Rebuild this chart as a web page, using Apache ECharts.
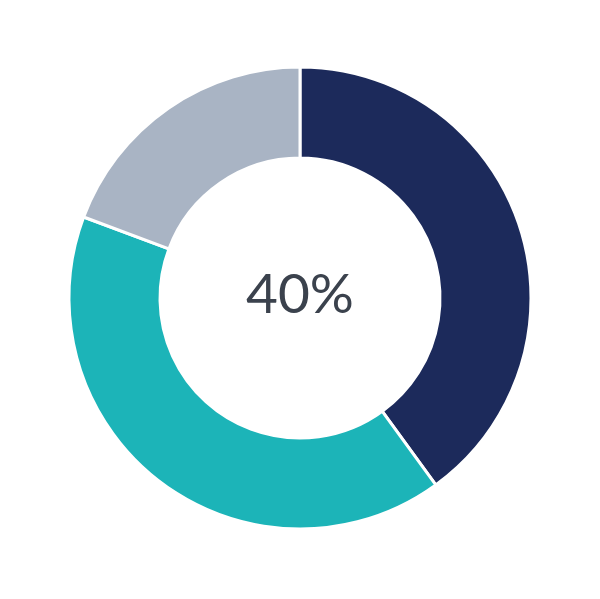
<!DOCTYPE html>
<html><head><meta charset="utf-8">
<script src="https://cdn.jsdelivr.net/npm/echarts@6/dist/echarts.min.js"></script>
<style>html,body{margin:0;padding:0;background:#fff}#c{width:600px;height:599px}</style>
</head><body><div id="c"></div>
<script>
const categories = ['A', 'B', 'C'];
const values = [40, 40.7, 19.3];
const colors = ['#1c2a5b', '#1cb4b8', '#a9b4c4'];
const centerLabel = '40%';

const chart = echarts.init(document.getElementById('c'));
chart.setOption({
  animation: false,
  graphic: [{
    type: 'text', left: 'center', top: 268,
    style: { text: centerLabel, font: '400 55px Lato', fill: '#3b424d', textAlign: 'center' }
  }],
  series: [{
    type: 'pie',
    center: [300, 298],
    radius: [140, 231],
    startAngle: 90,
    clockwise: true,
    label: { show: false },
    labelLine: { show: false },
    itemStyle: { borderColor: '#fff', borderWidth: 3 },
    emphasis: { disabled: true },
    data: categories.map((c, i) => ({ name: c, value: values[i], itemStyle: { color: colors[i] } }))
  }]
});
</script></body></html>
